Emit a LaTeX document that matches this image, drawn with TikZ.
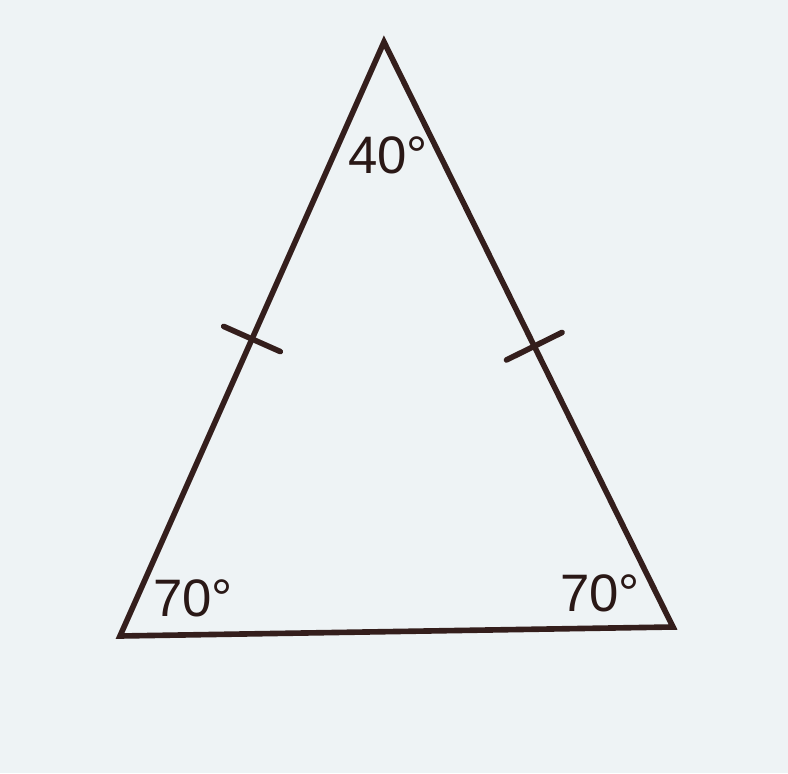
\documentclass[tikz,border=0pt]{standalone}
\usepackage{fontspec}
\setmainfont{Liberation Sans}
\usetikzlibrary{positioning,calc}
\definecolor{paper}{RGB}{238,243,245}
\definecolor{ink}{RGB}{52,30,28}
\tikzset{
	side/.style = {draw=ink, line width=3.2pt, line join=miter},
	tick/.style = {draw=ink, line width=3.2pt, line cap=round},
	angle/.style = {text=ink!80!black, font=\fontsize{30}{36}\selectfont, inner sep=0pt}}

\begin{document}
\begin{tikzpicture}[line width=1pt]

\fill [paper] (0,0) rectangle (15.76,15.46);
\useasboundingbox (0,0) rectangle (15.76,15.46);

% NODES
% corners
\coordinate (apex) at (7.68,14.62);
\coordinate (bleft) at (2.40,2.74);
\coordinate (bright) at (13.46,2.92);
% middle of the equal sides
\coordinate (mleft) at ($(apex)!0.5!(bleft)$);
\coordinate (mright) at ($(apex)!0.52!(bright)$);
% angles
\node (atop) [angle] at (7.76,12.36) {40°};
\node (aleft) [angle] at (3.86,3.50) {70°};
\node (aright) [angle] at (12.00,3.60) {70°};

%CONNECTIONS
\draw [side] (apex) -- (bleft) -- (bright) -- cycle;
\draw [tick] ($(mleft)!0.62cm!90:(apex)$) -- ($(mleft)!0.62cm!-90:(apex)$);
\draw [tick] ($(mright)!0.62cm!90:(apex)$) -- ($(mright)!0.62cm!-90:(apex)$);

\end{tikzpicture}
\end{document}
